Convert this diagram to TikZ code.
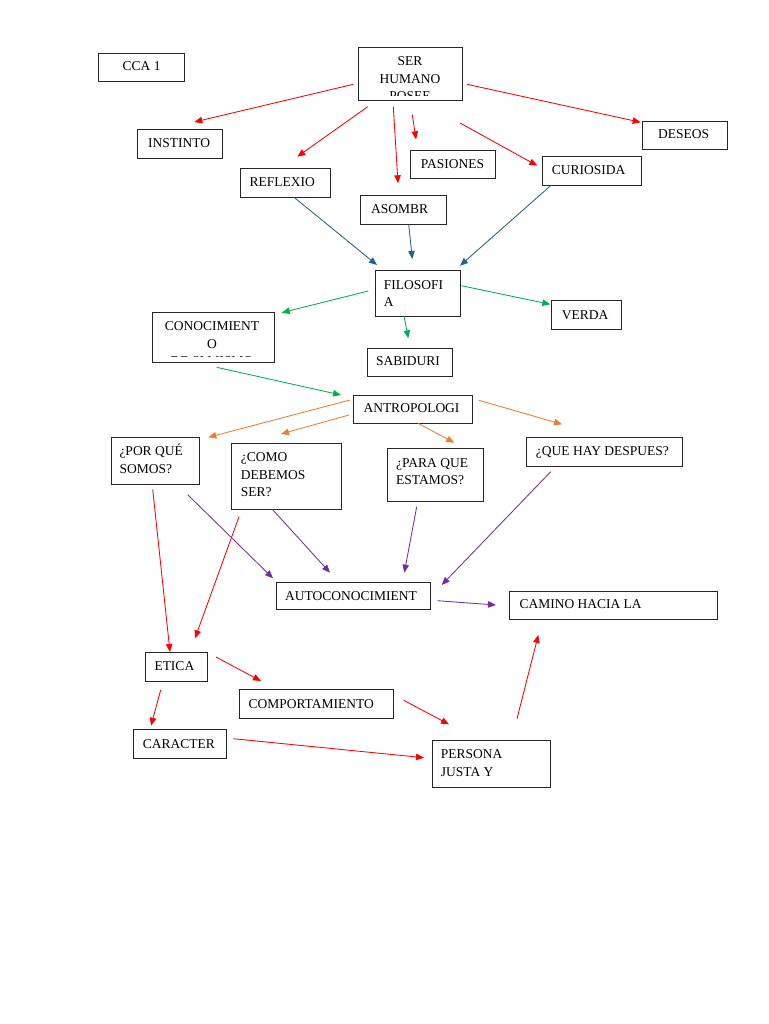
\documentclass[tikz,border=0pt]{standalone}
\usepackage{fontspec}
\setmainfont{Liberation Serif}
\usetikzlibrary{arrows.meta}
\definecolor{cred}{RGB}{255,0,0}
\definecolor{cblue}{RGB}{31,100,140}
\definecolor{cgreen}{RGB}{0,176,80}
\definecolor{corange}{RGB}{237,125,49}
\definecolor{cpurple}{RGB}{112,48,160}
\tikzset{
  boxst/.style={draw=black!85, line width=1.2pt, inner sep=0pt, anchor=north west},
  txt/.style={inner sep=0pt, font=\fontsize{13.5}{17.5}\selectfont, align=left, anchor=base west},
  txtc/.style={inner sep=0pt, font=\fontsize{13.5}{17.5}\selectfont, align=center, anchor=base},
  arr/.style={line width=0.85pt, -{Triangle[length=8pt,width=6.5pt]}},
}
\newcommand{\mybox}[5]{%
  \node[boxst, minimum width=#4pt-#2pt, minimum height=#5pt-#3pt] (#1) at (#2,#3) {};}
\begin{document}
\begin{tikzpicture}[x=1pt,y=-1pt]
\useasboundingbox[fill=white] (0,0) rectangle (768,1024);

% boxes
\mybox{cca}{98}{53}{184}{81}
\mybox{ser}{358}{47}{462}{100}
\mybox{ins}{137}{129}{222}{158}
\mybox{ref}{240}{168}{330}{197}
\mybox{aso}{360}{195}{446}{224}
\mybox{pas}{410}{150}{495}{178}
\mybox{cur}{542}{156}{641}{185}
\mybox{des}{642}{121}{727}{149}
\mybox{fil}{375}{270}{460}{316}
\mybox{ver}{551}{300}{621}{329}
\mybox{sab}{367}{348}{452}{376}
\mybox{con}{152}{312}{274}{362}
\mybox{ant}{353}{395}{472}{423}
\mybox{que}{526}{437}{682}{466}
\mybox{par}{387}{448}{483}{501}
\mybox{por}{111}{437}{199}{484}
\mybox{com}{231}{443}{341}{509}
\mybox{aut}{276}{582}{430}{609}
\mybox{cam}{509}{591}{717}{619}
\mybox{per}{432}{740}{550}{787}
\mybox{eti}{145}{652}{207}{681}
\mybox{cmp}{239}{689}{393}{718}
\mybox{car}{133}{729}{226}{758}

% texts (base anchor = baseline of the last line)
\node[txt] (tcca) at (122.5,71) {CCA 1};
\begin{scope}
\clip (359,48) rectangle (461,95.7);
\node[txtc] (tser) at (410,100.7) {SER\\HUMANO\\POSEE};
\end{scope}
\node[txt] (tins) at (148,147.3) {INSTINTO};
\node[txt] (tref) at (249.3,186.7) {REFLEXIO};
\node[txt] (taso) at (371,213.3) {ASOMBR};
\node[txt] (tpas) at (420.7,168.3) {PASIONES};
\node[txt] (tcur) at (551.7,174.3) {CURIOSIDA};
\node[txt] (tdes) at (658,139) {DESEOS};
\node[txt] (tfil) at (383.7,306.5) {FILOSOFI\\A};
\node[txt] (tver) at (561.7,319) {VERDA};
\node[txt] (tsab) at (376,365.7) {SABIDURI};
\begin{scope}
\clip (153,313) rectangle (273,356.7);
\node[txtc] (tcon) at (212,365.7) {CONOCIMIENT\\O\\DE SI MISMO};
\end{scope}
\node[txt] (tant) at (363.3,412.3) {ANTROPOLOGI};
\node[txt] (tque) at (535.7,455.7) {¿QUE HAY DESPUES?};
\node[txt] (tpar) at (396,484.8) {¿PARA QUE\\ESTAMOS?};
\node[txt] (tpor) at (119.3,473.2) {¿POR QUÉ\\SOMOS?};
\node[txt] (tcom) at (240.7,496.7) {¿COMO\\DEBEMOS\\SER?};
\node[txt] (taut) at (285,600) {AUTOCONOCIMIENT};
\node[txt] (tcam) at (519.3,608.7) {CAMINO HACIA LA};
\node[txt] (tper) at (440.7,776.3) {PERSONA\\JUSTA Y};
\node[txt] (teti) at (154.3,670.7) {ETICA};
\node[txt] (tcmp) at (248.3,708) {COMPORTAMIENTO};
\node[txt] (tcar) at (142.7,748.3) {CARACTER};

% arrow end points
\coordinate (a1s) at (353.3,84.3);  \coordinate (a1e) at (194.3,122);
\coordinate (a2s) at (367.7,106.7); \coordinate (a2e) at (297.3,156.7);
\coordinate (a3s) at (393.3,106.7); \coordinate (a3e) at (398,183.3);
\coordinate (a4s) at (412.3,114.7); \coordinate (a4e) at (416,139.3);
\coordinate (a5s) at (460,123);     \coordinate (a5e) at (537.3,165.7);
\coordinate (a6s) at (467,84.3);    \coordinate (a6e) at (640.7,122.3);
\coordinate (a7s) at (294,197.3);   \coordinate (a7e) at (377,265);
\coordinate (a8s) at (408.7,224.3); \coordinate (a8e) at (412.3,259);
\coordinate (a9s) at (551,185.3);   \coordinate (a9e) at (460,265.7);
\coordinate (a10s) at (368.3,291);  \coordinate (a10e) at (281.7,312.7);
\coordinate (a11s) at (404,315.7);  \coordinate (a11e) at (408.3,338.3);
\coordinate (a12s) at (461.3,285.7); \coordinate (a12e) at (550.3,304.3);
\coordinate (a13s) at (216.7,367.3); \coordinate (a13e) at (341,395);
\coordinate (a14s) at (350,400);    \coordinate (a14e) at (208.3,437.3);
\coordinate (a15s) at (349,415);    \coordinate (a15e) at (281,434);
\coordinate (a16s) at (418,423.3);  \coordinate (a16e) at (454.3,442.7);
\coordinate (a17s) at (479,400.3);  \coordinate (a17e) at (562,424.3);
\coordinate (a18s) at (187.7,494.7); \coordinate (a18e) at (273,578.3);
\coordinate (a19s) at (272.3,509.3); \coordinate (a19e) at (330,572.7);
\coordinate (a20s) at (416.7,506.7); \coordinate (a20e) at (404.3,572.7);
\coordinate (a21s) at (550.7,471.7); \coordinate (a21e) at (441.7,585);
\coordinate (a22s) at (437.3,600.7); \coordinate (a22e) at (496,605);
\coordinate (a23s) at (152.7,489.3); \coordinate (a23e) at (170,652);
\coordinate (a24s) at (239,516.7);  \coordinate (a24e) at (195,638.3);
\coordinate (a25s) at (216,657);    \coordinate (a25e) at (261,681);
\coordinate (a26s) at (160.7,690);  \coordinate (a26e) at (151,725.7);
\coordinate (a27s) at (403.7,700.3); \coordinate (a27e) at (449,724.3);
\coordinate (a28s) at (233.3,738.7); \coordinate (a28e) at (424,757.7);
\coordinate (a29s) at (517,718.7);  \coordinate (a29e) at (538.3,635);

% arrows
\foreach \i in {1,2,3,4,5,6,23,24,25,26,27,28,29} \draw[arr, cred] (a\i s) -- (a\i e);
\foreach \i in {7,8,9} \draw[arr, cblue] (a\i s) -- (a\i e);
\foreach \i in {10,11,12,13} \draw[arr, cgreen] (a\i s) -- (a\i e);
\foreach \i in {14,15,16,17} \draw[arr, corange] (a\i s) -- (a\i e);
\foreach \i in {18,19,20,21,22} \draw[arr, cpurple] (a\i s) -- (a\i e);
\end{tikzpicture}
\end{document}
